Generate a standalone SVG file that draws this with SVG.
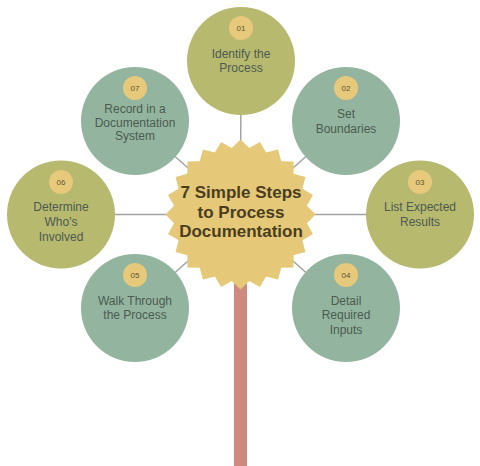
<svg xmlns="http://www.w3.org/2000/svg" width="480" height="466" viewBox="0 0 480 466">
<style>
.olive{fill:#b7b96f}
.sage{fill:#93b5a0}
.badge{fill:#e6c97a}
.num{font-family:"Liberation Sans",Arial,sans-serif;font-size:8px;fill:#5e5434;text-anchor:middle}
.lbl{font-family:"Liberation Sans",Arial,sans-serif;font-size:12px;fill:#4d5a50;text-anchor:middle}
.title{font-family:"Liberation Sans",Arial,sans-serif;font-size:17px;font-weight:bold;fill:#4a3d1e;text-anchor:middle}
.conn line{stroke:#a3a3a3;stroke-width:1.5}
</style>
<rect width="480" height="466" fill="#ffffff"/>
<g id="stem"><rect x="234" y="270" width="13" height="196" fill="#cf8a80"/></g>
<g id="connectors" class="conn">
<line x1="240.5" y1="214.5" x2="241" y2="61"/>
<line x1="240.5" y1="214.5" x2="346" y2="121"/>
<line x1="240.5" y1="214.5" x2="420" y2="214.5"/>
<line x1="240.5" y1="214.5" x2="346" y2="308"/>
<line x1="240.5" y1="214.5" x2="135" y2="308"/>
<line x1="240.5" y1="214.5" x2="61" y2="214.5"/>
<line x1="240.5" y1="214.5" x2="135" y2="121"/>
</g>
<g id="step01">
<circle cx="241" cy="61" r="54" class="olive"/>
<circle cx="241" cy="28" r="12" class="badge"/>
<text x="241" y="31" class="num">01</text>
<text x="241" y="58" class="lbl">Identify the</text>
<text x="241" y="72" class="lbl">Process</text>
</g>
<g id="step02">
<circle cx="346" cy="121" r="54" class="sage"/>
<circle cx="346" cy="88" r="12" class="badge"/>
<text x="346" y="91" class="num">02</text>
<text x="346" y="118" class="lbl">Set</text>
<text x="346" y="133" class="lbl">Boundaries</text>
</g>
<g id="step03">
<circle cx="420" cy="214.5" r="54" class="olive"/>
<circle cx="420" cy="182" r="12" class="badge"/>
<text x="420" y="185" class="num">03</text>
<text x="420" y="211" class="lbl">List Expected</text>
<text x="420" y="226" class="lbl">Results</text>
</g>
<g id="step04">
<circle cx="346" cy="308" r="54" class="sage"/>
<circle cx="346" cy="275" r="12" class="badge"/>
<text x="346" y="278" class="num">04</text>
<text x="346" y="305" class="lbl">Detail</text>
<text x="346" y="319" class="lbl">Required</text>
<text x="346" y="334" class="lbl">Inputs</text>
</g>
<g id="step05">
<circle cx="135" cy="308" r="54" class="sage"/>
<circle cx="135" cy="275" r="12" class="badge"/>
<text x="135" y="278" class="num">05</text>
<text x="135" y="305" class="lbl">Walk Through</text>
<text x="135" y="319" class="lbl">the Process</text>
</g>
<g id="step06">
<circle cx="61" cy="214.5" r="54" class="olive"/>
<circle cx="61" cy="182" r="12" class="badge"/>
<text x="61" y="185" class="num">06</text>
<text x="61" y="211" class="lbl">Determine</text>
<text x="61" y="226" class="lbl">Who’s</text>
<text x="61" y="241" class="lbl">Involved</text>
</g>
<g id="step07">
<circle cx="135" cy="121" r="54" class="sage"/>
<circle cx="135" cy="88" r="12" class="badge"/>
<text x="135" y="91" class="num">07</text>
<text x="135" y="113" class="lbl">Record in a</text>
<text x="135" y="127" class="lbl">Documentation</text>
<text x="135" y="140" class="lbl">System</text>
</g>
<g id="center">
<polygon transform="translate(240.5,214.5)" fill="#e5c878" points="0,-75 8.75,-66.43 19.41,-72.44 25.64,-61.9 37.5,-64.95 40.79,-53.15 53.03,-53.03 53.15,-40.79 64.95,-37.5 61.9,-25.64 72.44,-19.41 66.43,-8.75 75,0 66.43,8.75 72.44,19.41 61.9,25.64 64.95,37.5 53.15,40.79 53.03,53.03 40.79,53.15 37.5,64.95 25.64,61.9 19.41,72.44 8.75,66.43 0,75 -8.75,66.43 -19.41,72.44 -25.64,61.9 -37.5,64.95 -40.79,53.15 -53.03,53.03 -53.15,40.79 -64.95,37.5 -61.9,25.64 -72.44,19.41 -66.43,8.75 -75,0 -66.43,-8.75 -72.44,-19.41 -61.9,-25.64 -64.95,-37.5 -53.15,-40.79 -53.03,-53.03 -40.79,-53.15 -37.5,-64.95 -25.64,-61.9 -19.41,-72.44 -8.75,-66.43"/>
<text x="241" y="198" class="title">7 Simple Steps</text>
<text x="241" y="218" class="title">to Process</text>
<text x="241" y="237" class="title">Documentation</text>
</g>
</svg>
